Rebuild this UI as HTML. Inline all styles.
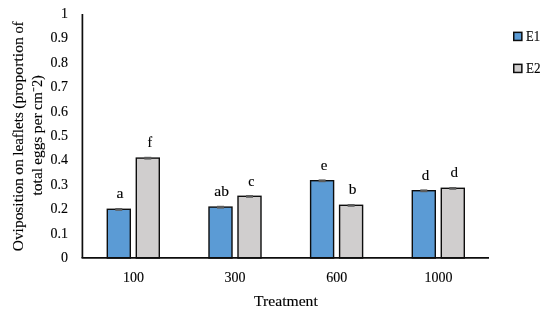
<!DOCTYPE html>
<html>
<head>
<meta charset="utf-8">
<title>Oviposition on leaflets</title>
<style>
html,body{margin:0;padding:0;background:#fff;}
body{width:550px;height:312px;overflow:hidden;}
svg{display:block;}
text{font-family:"Liberation Serif",serif;font-size:14px;fill:#000;stroke:#000;stroke-width:0.12px;}
</style>
</head>
<body>
<svg width="550" height="312" viewBox="0 0 550 312">
<rect width="550" height="312" fill="#fff"/>
<g stroke="#0d0d0d" stroke-width="1.4">
<rect x="107.30" y="209.30" width="23.00" height="48.70" fill="#5b9bd5"/>
<rect x="136.30" y="158.10" width="23.00" height="99.90" fill="#d0cece"/>
<rect x="209.00" y="207.10" width="23.00" height="50.90" fill="#5b9bd5"/>
<rect x="238.00" y="196.30" width="23.00" height="61.70" fill="#d0cece"/>
<rect x="310.60" y="180.70" width="23.00" height="77.30" fill="#5b9bd5"/>
<rect x="339.60" y="205.30" width="23.00" height="52.70" fill="#d0cece"/>
<rect x="412.30" y="190.70" width="23.00" height="67.30" fill="#5b9bd5"/>
<rect x="441.30" y="188.30" width="23.00" height="69.70" fill="#d0cece"/>
</g>
<g fill="#5c5c5c">
<rect x="115.30" y="208.00" width="7" height="2.8"/>
<rect x="144.30" y="156.80" width="7" height="2.8"/>
<rect x="217.00" y="205.80" width="7" height="2.8"/>
<rect x="246.00" y="195.00" width="7" height="2.8"/>
<rect x="318.60" y="179.40" width="7" height="2.8"/>
<rect x="347.60" y="204.00" width="7" height="2.8"/>
<rect x="420.30" y="189.40" width="7" height="2.8"/>
<rect x="449.30" y="187.00" width="7" height="2.8"/>
</g>
<path d="M82.4 14 V258" fill="none" stroke="#0d0d0d" stroke-width="1.7"/>
<path d="M81.55 257.9 H489" fill="none" stroke="#0d0d0d" stroke-width="1.9"/>
<g text-anchor="end">
<text x="67.9" y="17.8">1</text>
<text x="67.9" y="42.2">0.9</text>
<text x="67.9" y="66.7">0.8</text>
<text x="67.9" y="91.1">0.7</text>
<text x="67.9" y="115.6">0.6</text>
<text x="67.9" y="140.0">0.5</text>
<text x="67.9" y="164.4">0.4</text>
<text x="67.9" y="188.9">0.3</text>
<text x="67.9" y="213.3">0.2</text>
<text x="67.9" y="237.8">0.1</text>
<text x="67.9" y="262.2">0</text>
</g>
<g text-anchor="middle">
<text x="133.4" y="282.4">100</text>
<text x="235.1" y="282.4">300</text>
<text x="336.7" y="282.4">600</text>
<text x="438.4" y="282.4">1000</text>
</g>
<text x="254.05" y="306" textLength="63.70" lengthAdjust="spacingAndGlyphs">Treatment</text>
<g>
<text x="116.62" y="198.0" textLength="6.95" lengthAdjust="spacingAndGlyphs">a</text>
<text x="147.39" y="147.0" textLength="4.63" lengthAdjust="spacingAndGlyphs">f</text>
<text x="214.38" y="196.0" textLength="14.64" lengthAdjust="spacingAndGlyphs">ab</text>
<text x="248.31" y="185.6" textLength="6.17" lengthAdjust="spacingAndGlyphs">c</text>
<text x="320.67" y="170.0" textLength="6.66" lengthAdjust="spacingAndGlyphs">e</text>
<text x="348.86" y="194.4" textLength="7.69" lengthAdjust="spacingAndGlyphs">b</text>
<text x="421.75" y="180.0" textLength="7.50" lengthAdjust="spacingAndGlyphs">d</text>
<text x="450.55" y="177.4" textLength="7.50" lengthAdjust="spacingAndGlyphs">d</text>
</g>
<text transform="translate(23.4,251.26) rotate(-90)"><tspan x="0.00" textLength="72.96" lengthAdjust="spacingAndGlyphs">Oviposition</tspan> <tspan x="76.44" textLength="15.68" lengthAdjust="spacingAndGlyphs">on</tspan> <tspan x="95.59" textLength="43.41" lengthAdjust="spacingAndGlyphs">leaflets</tspan> <tspan x="142.47" textLength="71.75" lengthAdjust="spacingAndGlyphs">(proportion</tspan> <tspan x="217.70" textLength="12.22" lengthAdjust="spacingAndGlyphs">of</tspan></text>
<text transform="translate(41.7,195.54) rotate(-90)"><tspan x="0.00" textLength="27.65" lengthAdjust="spacingAndGlyphs">total</tspan> <tspan x="30.79" textLength="28.01" lengthAdjust="spacingAndGlyphs">eggs</tspan> <tspan x="61.94" textLength="20.50" lengthAdjust="spacingAndGlyphs">per</tspan> <tspan x="85.58" textLength="34.89" lengthAdjust="spacingAndGlyphs">cm⁻2)</tspan></text>
<rect x="513.75" y="32.35" width="8.1" height="8.1" fill="#5b9bd5" stroke="#0d0d0d" stroke-width="1.5"/>
<text x="526" y="40.6" textLength="14" lengthAdjust="spacingAndGlyphs">E1</text>
<rect x="513.75" y="64.35" width="8.1" height="8.1" fill="#d0cece" stroke="#0d0d0d" stroke-width="1.5"/>
<text x="526" y="72.6" textLength="14.6" lengthAdjust="spacingAndGlyphs">E2</text>
</svg>
</body>
</html>
